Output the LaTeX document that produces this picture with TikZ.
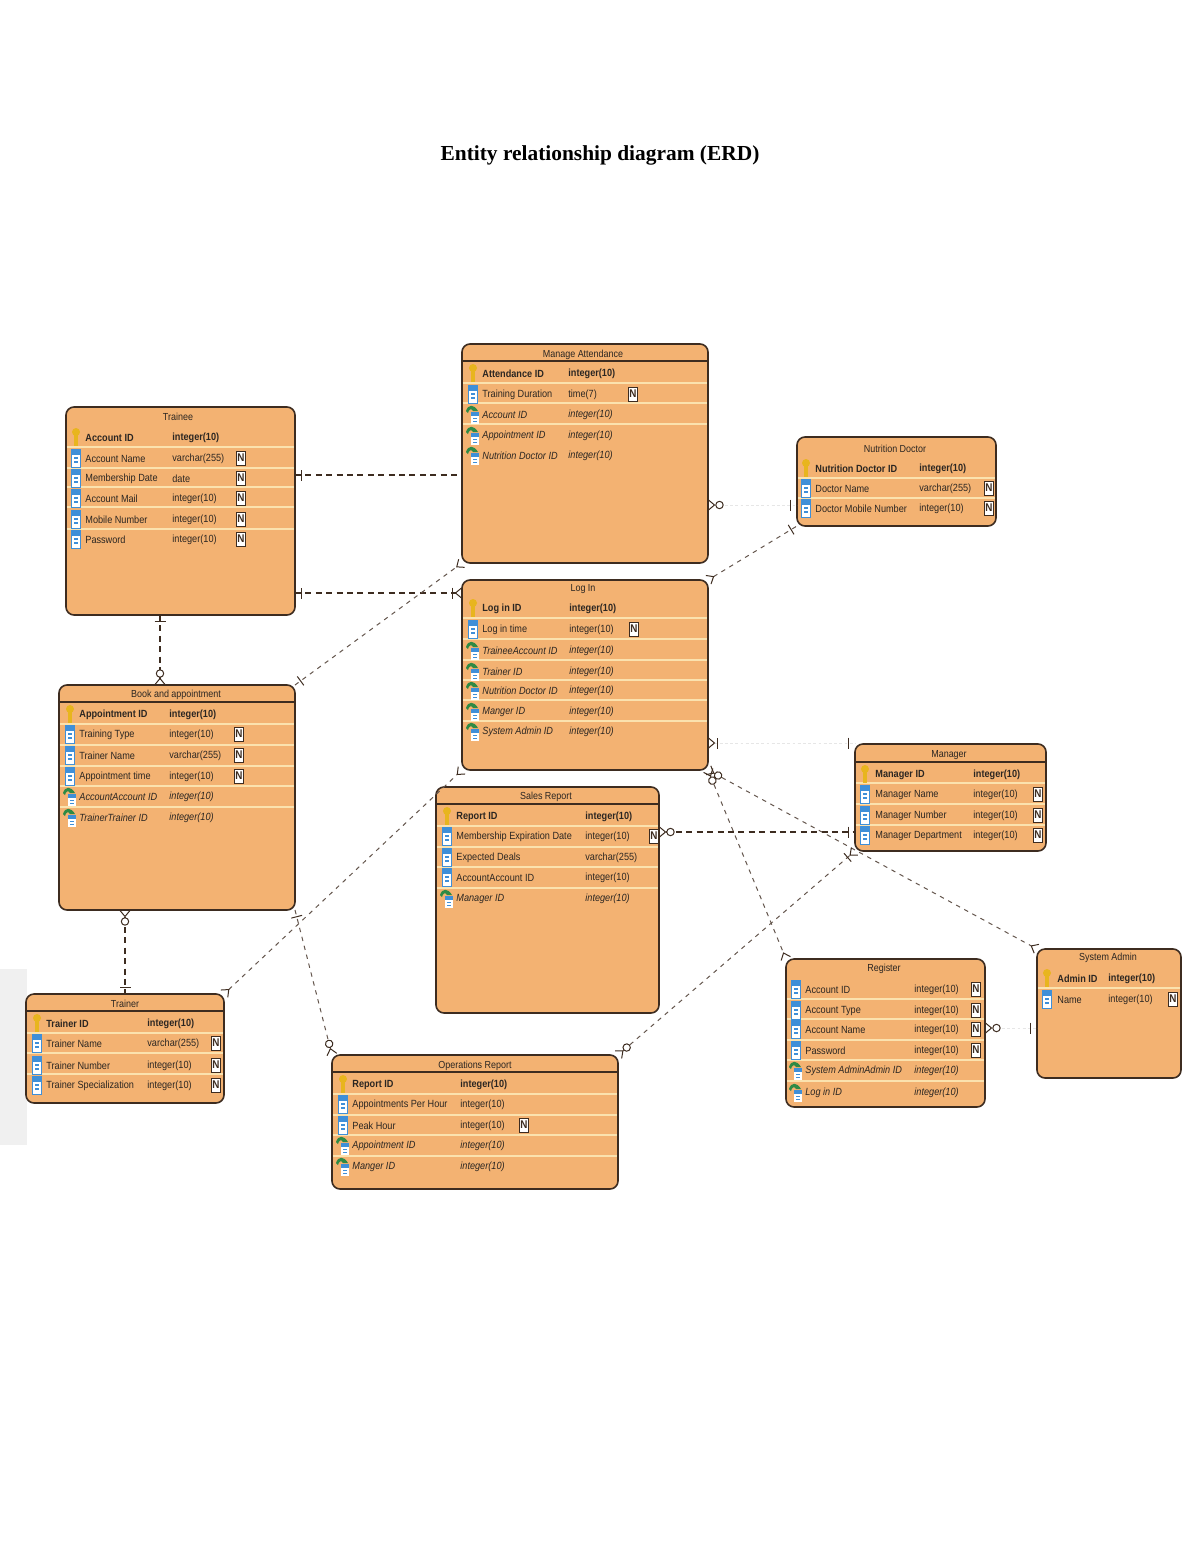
\documentclass[tikz,border=0pt]{standalone}
\usepackage{fontspec}
\setmainfont[FakeStretch=0.88]{Liberation Sans}
\newfontfamily\titlefont{Liberation Serif}
\usetikzlibrary{arrows.meta,fit}
\definecolor{boxfill}{HTML}{F3B272}
\definecolor{boxedge}{HTML}{3D2C20}
\definecolor{sepcol}{HTML}{FBE2AE}
\definecolor{inkcol}{HTML}{2B2622}
\definecolor{faintcol}{HTML}{E6E6E6}
\definecolor{colblue}{HTML}{3F8FD8}
\definecolor{keycol}{HTML}{E8B51E}
\definecolor{fkgreen}{HTML}{2F8A45}
\tikzset{
  x=0.5pt,y=-0.5pt,
  ebox/.style={draw=boxedge,fill=boxfill,line width=0.8pt,rounded corners=4pt,inner sep=0pt,outer sep=0pt},
  etitle/.style={font=\fontsize{5.1}{6}\selectfont,text=inkcol,inner sep=0pt,yshift=-0.5pt},
  ecell/.style={font=\fontsize{5.2}{6}\selectfont,text=inkcol,inner sep=0pt,anchor=west,yshift=-0.5pt},
  nflag/.style={font=\bfseries\fontsize{5.6}{6}\selectfont,text=boxedge,fill=white,draw=boxedge,line width=0.3pt,inner sep=0.5pt,minimum width=4.4pt,minimum height=7pt},
  sepline/.style={draw=sepcol,line width=0.7pt,shorten >=0.4pt,shorten <=0.4pt},
  hdrline/.style={draw=boxedge,line width=0.7pt},
  rel/.style={draw=boxedge,dash pattern=on 3pt off 2.2pt,line width=0.55pt},
  reld/.style={draw=boxedge!80!white,dash pattern=on 2.2pt off 2.4pt,line width=0.5pt},
  relf/.style={draw=faintcol,dash pattern=on 1.4pt off 1.2pt,line width=0.5pt},
  Tgap/.tip={Square[length=0.01pt,width=0.01pt]},
  Tone/.tip={Bar[width=5.5pt,line width=0.5pt,sep=3.2pt,color=boxedge] Tgap},
  Tcrow/.tip={Straight Barb[reversed,length=3pt,width=5pt,line width=0.5pt,color=boxedge]},
  Tcc/.tip={Circle[open,length=4.2pt,width=4.2pt,line width=0.5pt,fill=white,color=boxedge] Tcrow},
  Tcb/.tip={Bar[width=5.5pt,line width=0.5pt,sep=1pt,color=boxedge] Tcrow},
}
\newcounter{cellno}
% table column positions: icon, name, type, N
\newcommand{\cols}[4]{\def\cI{#1}\def\cT{#2}\def\cY{#3}\def\cN{#4}}
\newcommand{\iconcol}[2]{%
  \fill[white] (#1-4.5,#2-9) rectangle (#1+4.5,#2+9);
  \fill[colblue] (#1-4.5,#2-9) rectangle (#1+4.5,#2-3);
  \draw[colblue,line width=0.45pt] (#1-4.5,#2-9) rectangle (#1+4.5,#2+9);
  \draw[colblue,line width=0.7pt] (#1-2,#2) -- (#1+2,#2) (#1-2,#2+4) -- (#1+2,#2+4);
}
\newcommand{\iconkey}[2]{%
  \fill[keycol] (#1,#2-5) circle[radius=4];
  \fill[keycol] (#1-1.8,#2-3) rectangle (#1+1.8,#2+9);
}
\newcommand{\iconfk}[2]{%
  \fill[white] (#1-2,#2-2) rectangle (#1+6,#2+10);
  \fill[colblue] (#1-2,#2-2) rectangle (#1+6,#2+2);
  \draw[colblue,line width=0.6pt] (#1,#2+4.5) -- (#1+4,#2+4.5) (#1,#2+7.5) -- (#1+4,#2+7.5);
  \fill[fkgreen] (#1-7,#2-3) .. controls (#1-5,#2-10) and (#1+1,#2-10) .. (#1+5,#2-3) -- (#1,#2-3) .. controls (#1-2,#2-6) and (#1-4,#2-5) .. (#1-5,#2-1) -- cycle;
}
% primary key row
\newcommand{\prow}[3]{\stepcounter{cellno}\iconkey{\cI}{#1}%
  \node[ecell,font=\bfseries\fontsize{5.2}{6}\selectfont] (cn\thecellno) at (\cT,#1) {#2};
  \node[ecell,font=\bfseries\fontsize{5.2}{6}\selectfont] (ct\thecellno) at (\cY,#1) {#3};}
% plain column, not null
\newcommand{\nrow}[3]{\stepcounter{cellno}\iconcol{\cI}{#1}%
  \node[ecell] (cn\thecellno) at (\cT,#1) {#2};
  \node[ecell] (ct\thecellno) at (\cY,#1) {#3};
  \node[nflag] (cf\thecellno) at (\cN,#1) {N};}
% plain column, nullable
\newcommand{\urow}[3]{\stepcounter{cellno}\iconcol{\cI}{#1}%
  \node[ecell] (cn\thecellno) at (\cT,#1) {#2};
  \node[ecell] (ct\thecellno) at (\cY,#1) {#3};}
% foreign key column
\newcommand{\frow}[3]{\stepcounter{cellno}\iconfk{\cI}{#1}%
  \node[ecell,font=\itshape\fontsize{5.2}{6}\selectfont] (cn\thecellno) at (\cT,#1) {#2};
  \node[ecell,font=\itshape\fontsize{5.2}{6}\selectfont] (ct\thecellno) at (\cY,#1) {#3};}
\newcommand{\seps}[2]{\foreach \yy in {#2}{\draw[sepline] (#1.west |- 0,\yy) -- (#1.east |- 0,\yy);}}
\newcommand{\hdr}[2]{\draw[hdrline] (#1.west |- 0,#2) -- (#1.east |- 0,#2);}
\begin{document}
\begin{tikzpicture}
\useasboundingbox (0,0) rectangle (1200,1553);
\fill[white] (0,0) rectangle (1200,1553);
\fill[black!6] (0,969) rectangle (27,1145);
\node[font=\titlefont\bfseries\fontsize{10.7}{12}\selectfont,text=black,inner sep=0pt] (maintitle) at (600,155) {Entity relationship diagram (ERD)};

% entity boxes
\node[ebox,fit={(66,407)(295,615)}] (trainee) {};
\node[ebox,fit={(462,344)(708,563)}] (attend) {};
\node[ebox,fit={(797,437)(996,526)}] (nutrition) {};
\node[ebox,fit={(462,580)(708,770)}] (login) {};
\node[ebox,fit={(59,685)(295,910)}] (book) {};
\node[ebox,fit={(436,787)(659,1013)}] (sales) {};
\node[ebox,fit={(855,744)(1046,851)}] (manager) {};
\node[ebox,fit={(786,959)(985,1107)}] (register) {};
\node[ebox,fit={(1037,949)(1181,1078)}] (sysadmin) {};
\node[ebox,fit={(26,994)(224,1103)}] (trainer) {};
\node[ebox,fit={(332,1055)(618,1189)}] (ops) {};

% connectors
\draw[rel,{Tone}-] (trainee.east |- 0,475) -- (attend.west |- 0,475);
\draw[rel,{Tone}-{Tcb}] (trainee.east |- 0,593) -- (login.west |- 0,593);
\draw[rel,{Tone}-{Tcc}] (trainee.south -| 160,0) -- (book.north -| 160,0);
\draw[reld,{Tone}-{Tcrow}] (book.north east) -- (attend.south west);
\draw[reld,{Tcrow}-{Tone}] (login.north east) -- (nutrition.south west);
\draw[relf,{Tcc}-{Tone}] (attend.east |- 0,505) -- (nutrition.west |- 0,505);
\draw[relf,{Tcb}-{Tone}] (login.east |- 0,743) -- (manager.west |- 0,743);
\draw[reld,{Tcrow}-{Tcrow}] (trainer.north east) -- (login.south west);
\draw[reld,{Tone}-{Tcc}] (book.south east) -- (ops.north west);
\draw[reld,{Tcc}-{Tcrow}] (login.south east) -- (register.north west);
\draw[reld,{Tcc}-{Tcrow}] (login.south east) -- (sysadmin.north west);
\draw[rel,{Tcc}-{Tone}] (sales.east |- 0,832) -- (manager.west |- 0,832);
\draw[reld,{Tcc}-{Tcb}] (ops.north east) -- (manager.south west);
\draw[relf,{Tcc}-{Tone}] (register.east |- 0,1028) -- (sysadmin.west |- 0,1028);
\draw[rel,{Tcc}-{Tone}] (book.south -| 125,0) -- (trainer.north -| 125,0);

% Trainee
\node[etitle] (trainee-t) at (178,416) {Trainee};
\seps{trainee}{447,468,487,507,529}
\cols{76}{85}{172}{241}
\prow{437}{Account ID}{integer(10)}
\nrow{458}{Account Name}{varchar(255)}
\nrow{478}{Membership  Date}{date}
\nrow{498}{Account Mail}{integer(10)}
\nrow{519}{Mobile Number}{integer(10)}
\nrow{539}{Password}{integer(10)}

% Manage Attendance
\node[etitle] (attend-t) at (583,354) {Manage Attendance};
\hdr{attend}{361}
\seps{attend}{383,403,424}
\cols{473}{482}{568}{633}
\prow{373}{Attendance ID}{integer(10)}
\nrow{394}{Training Duration}{time(7)}
\frow{414}{Account ID}{integer(10)}
\frow{435}{Appointment ID}{integer(10)}
\frow{455}{Nutrition Doctor ID}{integer(10)}

% Nutrition Doctor
\node[etitle] (nutrition-t) at (895,448) {Nutrition Doctor};
\seps{nutrition}{478,498}
\cols{806}{815}{919}{989}
\prow{468}{Nutrition Doctor ID}{integer(10)}
\nrow{488}{Doctor Name}{varchar(255)}
\nrow{508}{Doctor Mobile Number}{integer(10)}

% Log In
\node[etitle] (login-t) at (583,588) {Log In};
\seps{login}{618,639,660,680,700,721}
\cols{473}{482}{569}{634}
\prow{608}{Log in ID}{integer(10)}
\nrow{629}{Log in time}{integer(10)}
\frow{650}{TraineeAccount ID}{integer(10)}
\frow{671}{Trainer ID}{integer(10)}
\frow{690}{Nutrition Doctor ID}{integer(10)}
\frow{711}{Manger ID}{integer(10)}
\frow{731}{System Admin ID}{integer(10)}

% Book and appointment
\node[etitle] (book-t) at (176,694) {Book and appointment};
\hdr{book}{702}
\seps{book}{724,745,766,786,807}
\cols{70}{79}{169}{239}
\prow{714}{Appointment ID}{integer(10)}
\nrow{734}{Training Type}{integer(10)}
\nrow{755}{Trainer Name}{varchar(255)}
\nrow{776}{Appointment time}{integer(10)}
\frow{796}{AccountAccount ID}{integer(10)}
\frow{817}{TrainerTrainer ID}{integer(10)}

% Sales Report
\node[etitle] (sales-t) at (546,796) {Sales Report};
\hdr{sales}{804}
\seps{sales}{826,847,867,888}
\cols{447}{456}{585}{654}
\prow{816}{Report ID}{integer(10)}
\nrow{836}{Membership Expiration Date}{integer(10)}
\urow{857}{Expected Deals}{varchar(255)}
\urow{877}{AccountAccount ID}{integer(10)}
\frow{898}{Manager ID}{integer(10)}

% Manager
\node[etitle] (manager-t) at (949,754) {Manager};
\hdr{manager}{762}
\seps{manager}{783,804,825}
\cols{865}{875}{973}{1038}
\prow{774}{Manager ID}{integer(10)}
\nrow{794}{Manager Name}{integer(10)}
\nrow{815}{Manager Number}{integer(10)}
\nrow{835}{Manager Department}{integer(10)}

% Register
\node[etitle] (register-t) at (884,968) {Register};
\seps{register}{999,1019,1040,1060,1081}
\cols{796}{805}{914}{976}
\nrow{989}{Account ID}{integer(10)}
\nrow{1010}{Account Type}{integer(10)}
\nrow{1029}{Account Name}{integer(10)}
\nrow{1050}{Password}{integer(10)}
\frow{1070}{System AdminAdmin ID}{integer(10)}
\frow{1092}{Log in ID}{integer(10)}

% System Admin
\node[etitle] (sysadmin-t) at (1108,957) {System Admin};
\seps{sysadmin}{988}
\cols{1047}{1057}{1108}{1173}
\prow{978}{Admin ID}{integer(10)}
\nrow{999}{Name}{integer(10)}

% Trainer
\node[etitle] (trainer-t) at (125,1003) {Trainer};
\hdr{trainer}{1011}
\seps{trainer}{1033,1053,1074}
\cols{37}{46}{147}{216}
\prow{1023}{Trainer ID}{integer(10)}
\nrow{1043}{Trainer Name}{varchar(255)}
\nrow{1065}{Trainer Number}{integer(10)}
\nrow{1085}{Trainer Specialization}{integer(10)}

% Operations Report
\node[etitle] (ops-t) at (475,1065) {Operations Report};
\hdr{ops}{1072}
\seps{ops}{1094,1115,1135,1156}
\cols{343}{352}{460}{524}
\prow{1084}{Report ID}{integer(10)}
\urow{1104}{Appointments Per Hour}{integer(10)}
\nrow{1125}{Peak Hour}{integer(10)}
\frow{1145}{Appointment ID}{integer(10)}
\frow{1166}{Manger ID}{integer(10)}
\end{tikzpicture}
\end{document}
